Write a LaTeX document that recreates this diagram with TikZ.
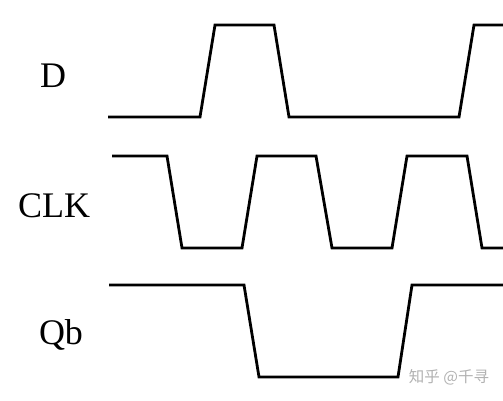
\documentclass[tikz,border=0pt]{standalone}
\usepackage{fontspec}
\setmainfont{Liberation Serif}
\newfontfamily\cjk{Noto Sans CJK SC}
\begin{document}
\begin{tikzpicture}[x=1pt,y=-1pt,
  wave/.style={line width=2.8pt,line join=miter,black},
  sig/.style={font=\fontsize{36}{40}\selectfont,inner sep=0pt}]
\useasboundingbox (0,0) rectangle (503,400);
\fill[white] (0,0) rectangle (503,400);
% labels
\node[sig] (lD) at (53,76) {D};
\node[sig] (lCLK) at (54,206) {CLK};
\node[sig] (lQb) at (61,335) {Qb};
% D waveform
\draw[wave] (108,117) -- (200,117) -- (215,25) -- (274,25) -- (289,117) -- (459,117) -- (474,25) -- (503,25);
% CLK waveform
\draw[wave] (112,156) -- (167,156) -- (182,248) -- (242,248) -- (257,156) -- (316,156) -- (332,248) -- (392,248) -- (407,156) -- (467,156) -- (482,248) -- (503,248);
% Qb waveform
\draw[wave] (109,285) -- (244,285) -- (259,377) -- (398,377) -- (412,285) -- (503,285);
% watermark
\node[inner sep=0pt,text=black!30,font=\cjk\fontsize{15.5}{17}\selectfont] (wm) at (449,377) {知乎 @千寻};
\end{tikzpicture}
\end{document}
